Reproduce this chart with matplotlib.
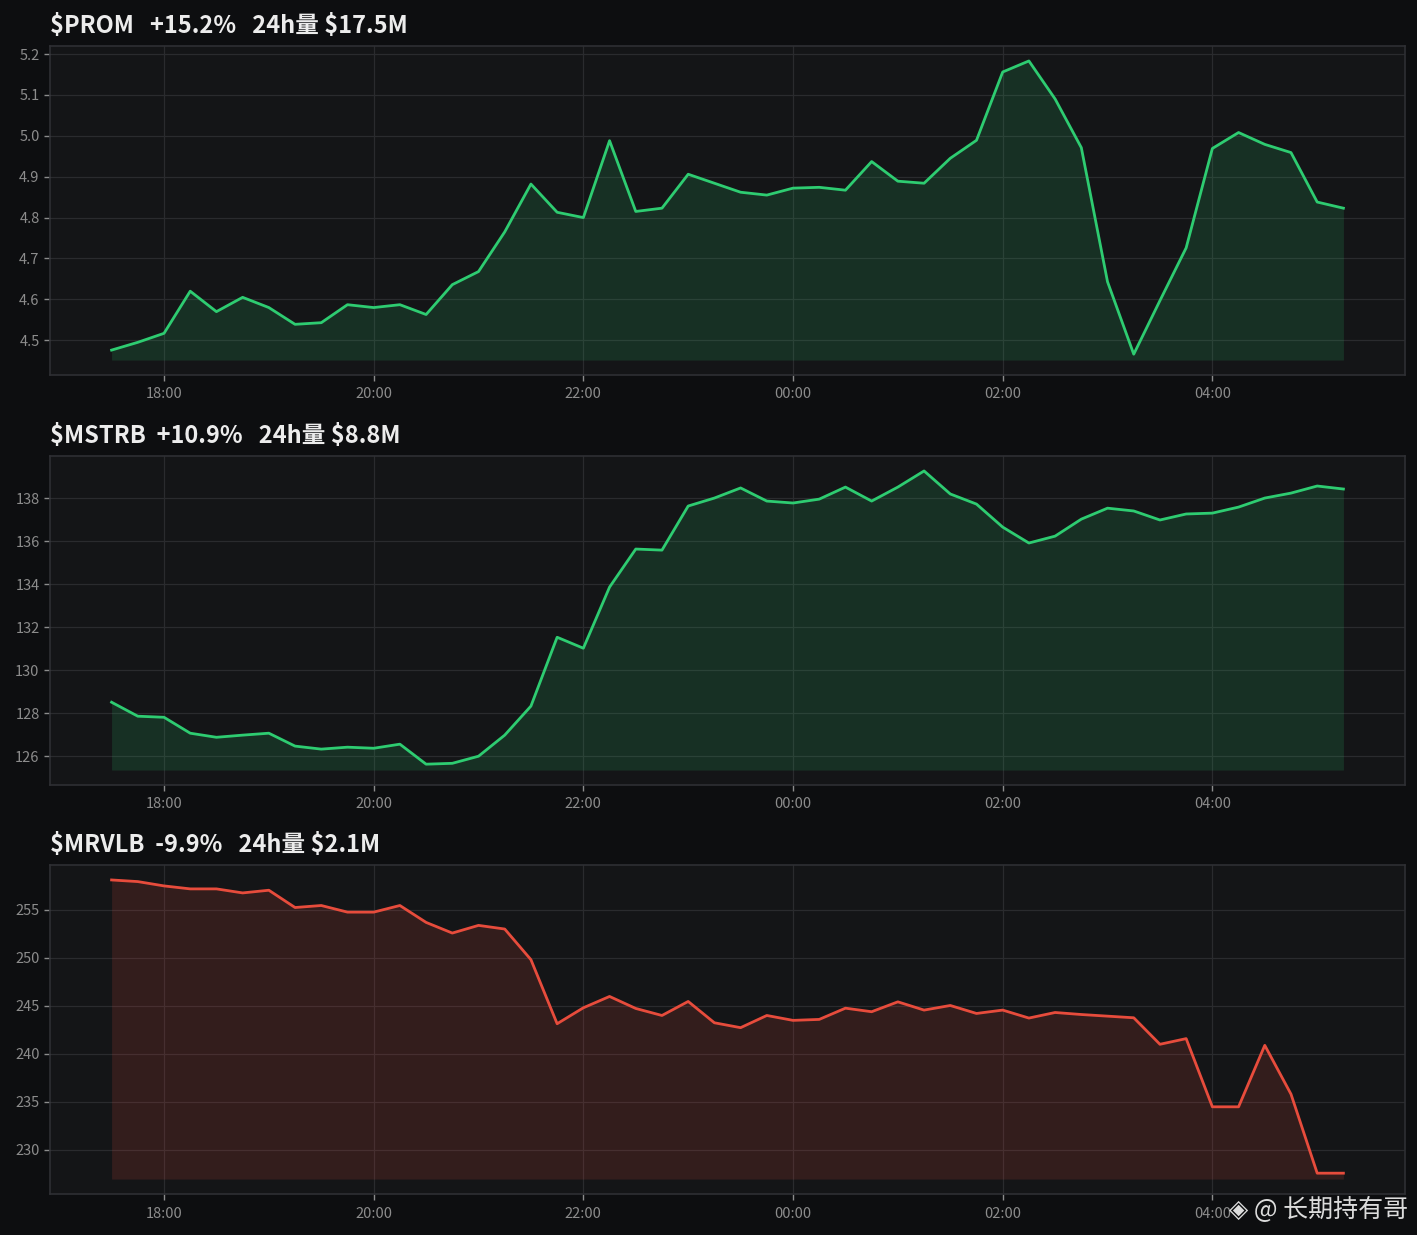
import numpy as np
import pandas as pd
import matplotlib
matplotlib.use("Agg")
import matplotlib.pyplot as plt
import matplotlib.dates as mdates

# 15 minute samples, 17:30 -> 05:15
times = pd.date_range("2024-01-01 17:30", periods=48, freq="15min")

prom = [4.476, 4.495, 4.517, 4.620, 4.570, 4.605, 4.580, 4.539, 4.543, 4.587,
        4.580, 4.587, 4.563, 4.636, 4.668, 4.765, 4.882, 4.813, 4.800, 4.988,
        4.815, 4.823, 4.906, 4.884, 4.862, 4.855, 4.872, 4.874, 4.867, 4.937,
        4.889, 4.884, 4.945, 4.989, 5.156, 5.183, 5.090, 4.971, 4.643, 4.466,
        4.597, 4.726, 4.969, 5.008, 4.979, 4.959, 4.838, 4.823]

mstrb = [128.51, 127.86, 127.81, 127.07, 126.88, 126.98, 127.07, 126.47, 126.33, 126.42,
         126.37, 126.56, 125.63, 125.67, 126.00, 126.98, 128.33, 131.53, 131.02, 133.86,
         135.63, 135.58, 137.63, 138.00, 138.47, 137.86, 137.77, 137.95, 138.51, 137.86,
         138.51, 139.26, 138.19, 137.72, 136.65, 135.91, 136.23, 137.02, 137.53, 137.40,
         136.98, 137.26, 137.30, 137.58, 138.00, 138.23, 138.56, 138.42]

mrvlb = [258.11, 257.94, 257.49, 257.18, 257.18, 256.76, 257.04, 255.24, 255.45, 254.76,
         254.76, 255.45, 253.69, 252.58, 253.38, 253.00, 249.81, 243.14, 244.80, 245.98,
         244.73, 244.00, 245.46, 243.24, 242.73, 244.00, 243.49, 243.59, 244.76, 244.39,
         245.42, 244.56, 245.04, 244.21, 244.56, 243.73, 244.31, 244.10, 243.93, 243.76,
         241.00, 241.59, 234.49, 234.49, 240.89, 235.81, 227.58, 227.58]

titles = [r"\$PROM   +15.2%   24h量 \$17.5M",
          r"\$MSTRB  +10.9%   24h量 \$8.8M",
          r"\$MRVLB  -9.9%   24h量 \$2.1M"]
series = [prom, mstrb, mrvlb]
colors = ["#2ecc71", "#2ecc71", "#e74c3c"]
yticks = [np.arange(4.5, 5.21, 0.1), np.arange(126, 139, 2), np.arange(230, 256, 5)]
yfmt = ["%.1f", "%d", "%d"]

plt.rcParams['font.family'] = ['Noto Sans CJK SC', 'DejaVu Sans']

fig = plt.figure(figsize=(14.17, 12.35), dpi=100, facecolor="#0d0e10")

W, H = 1417, 1235
tops = [46, 456, 865]
axh = 329

for i in range(3):
    top = tops[i]
    ax = fig.add_axes([50 / W, 1 - (top + axh) / H, 1355 / W, axh / H])
    ax.set_facecolor("#141517")
    vals = np.array(series[i])
    base = vals.min() - 0.02 * (vals.max() - vals.min())
    ax.fill_between(times, vals, base, color=colors[i], alpha=0.15, linewidth=0)
    ax.plot(times, vals, color=colors[i], linewidth=2.0)

    ax.set_yticks(yticks[i])
    ax.yaxis.set_major_formatter(matplotlib.ticker.FormatStrFormatter(yfmt[i]))
    ax.xaxis.set_major_locator(mdates.HourLocator(byhour=range(0, 24, 2)))
    ax.xaxis.set_major_formatter(mdates.DateFormatter("%H:%M"))

    ax.grid(True, color="#2a2b2e", linewidth=0.9)
    ax.set_axisbelow(True)
    for s in ax.spines.values():
        s.set_color("#2e2f33")
        s.set_linewidth(1.2)
    ax.tick_params(colors="#8c8c8c", labelsize=10.5, length=4, width=1)
    ax.tick_params(axis="x", pad=5)

    ax.text(0, 1 + 20 / axh, titles[i], transform=ax.transAxes, ha="left", va="center",
            color="#ececec", fontsize=17, fontweight="bold")

fig.text(1408 / W, 1 - 1210 / H, "◈ @ 长期持有哥", ha="right", va="center",
         color="#dcdcdc", fontsize=18, family=['Noto Sans CJK SC', 'DejaVu Sans'])

fig.savefig("out.png", dpi=100, facecolor=fig.get_facecolor())
